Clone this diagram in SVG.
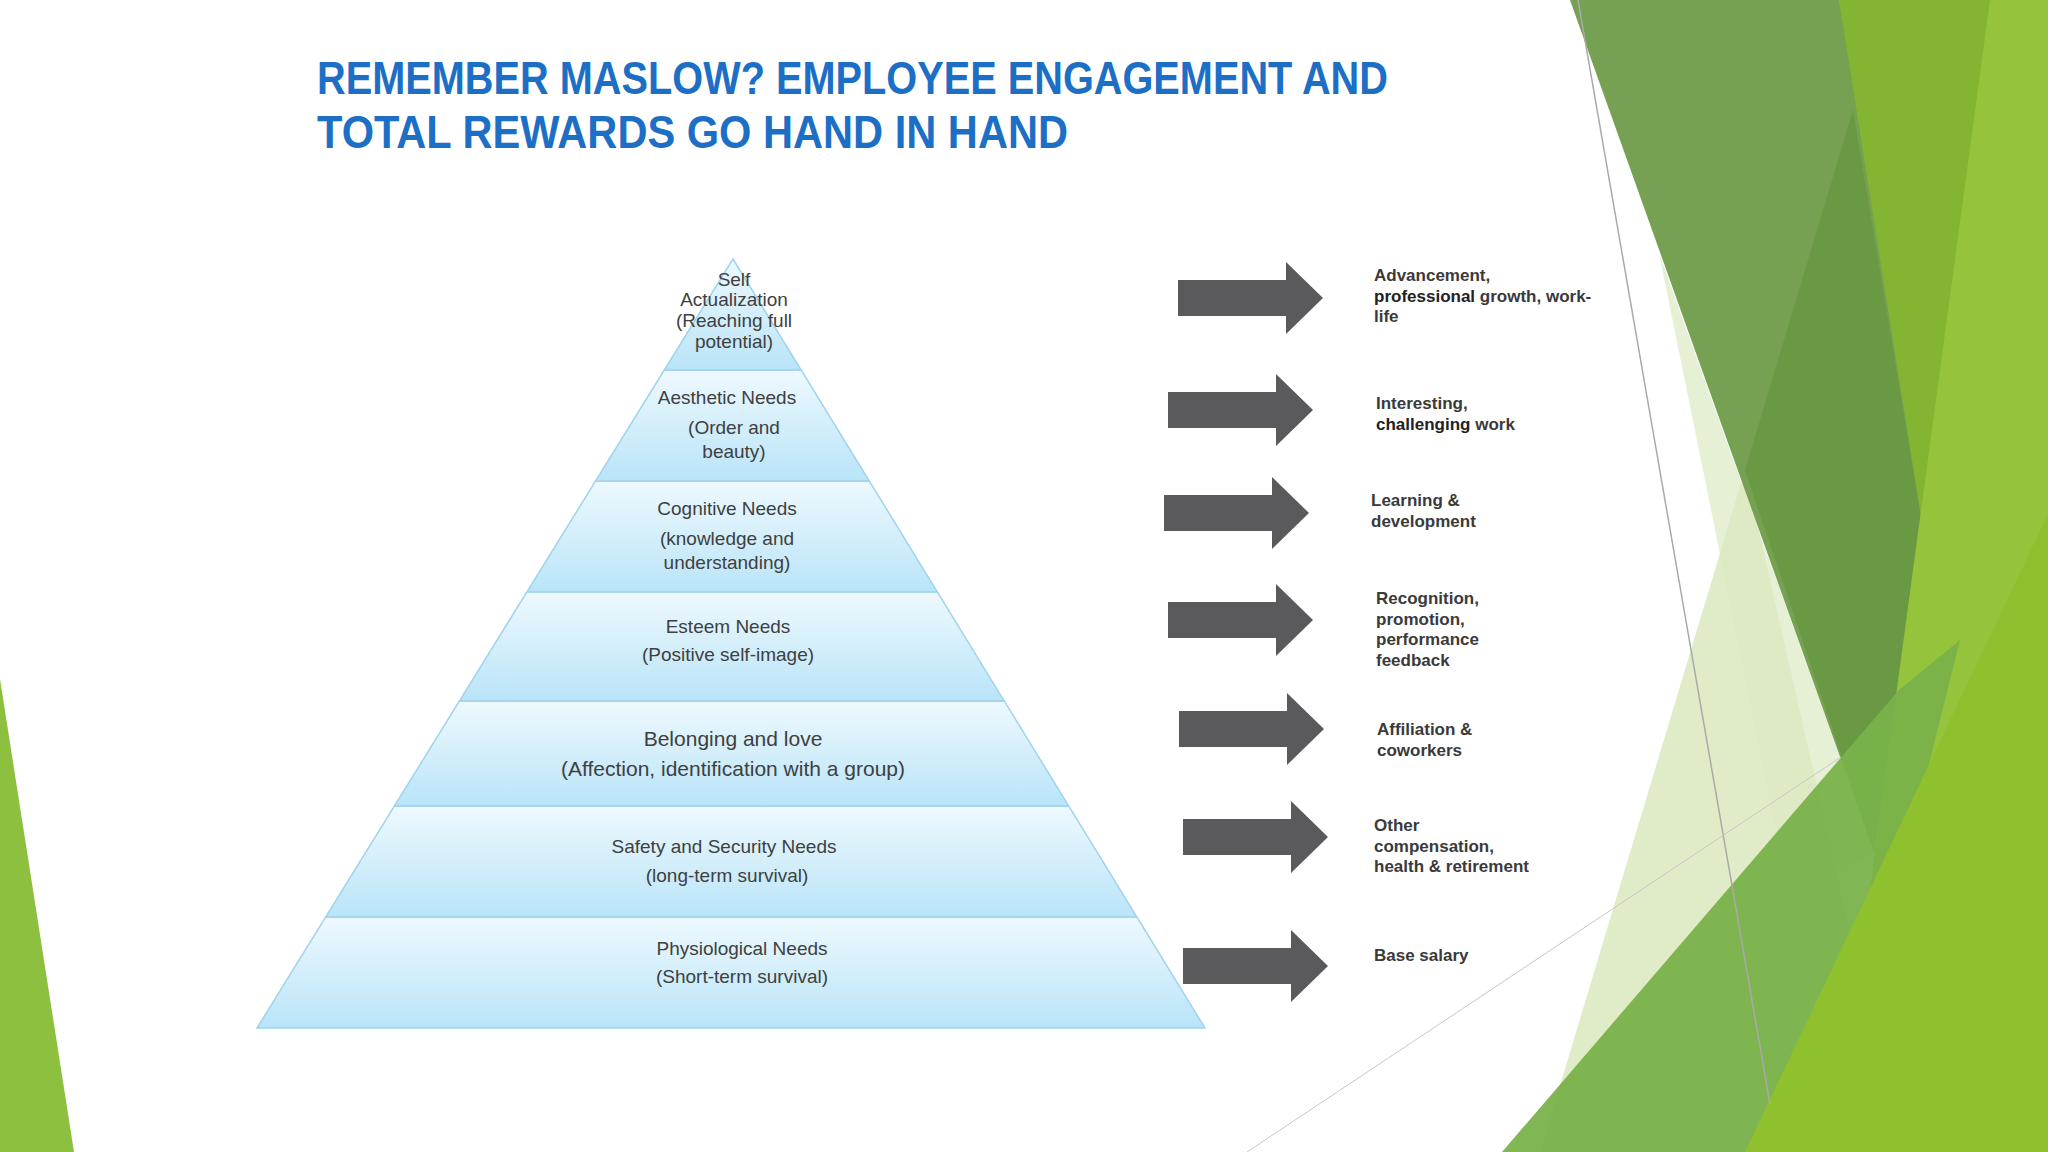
<svg xmlns="http://www.w3.org/2000/svg" width="2048" height="1152" viewBox="0 0 2048 1152">
<defs>
<style>
.pt{font-family:"Liberation Sans",Arial,sans-serif;font-size:19px;fill:#404040;text-anchor:middle}
.lb{font-family:"Liberation Sans",Arial,sans-serif;font-size:17px;font-weight:bold;fill:#3a3a3a}
.ttl{font-family:"Liberation Sans",Arial,sans-serif;font-size:46px;font-weight:bold;fill:#1d6fc6}
.arr{fill:#5a595b}
.sep{stroke:#a6d6ee;stroke-width:2}
</style>
<linearGradient id="band" x1="0" y1="0" x2="0" y2="1">
<stop offset="0" stop-color="#eef9fe"/><stop offset="1" stop-color="#b9e4f8"/>
</linearGradient>
<clipPath id="tri"><polygon points="733,259 1205,1028 257,1028"/></clipPath>
<path id="ar" d="M0,-18 H108 V-36 L145,0 L108,36 V18 H0 Z"/>
</defs>
<rect width="2048" height="1152" fill="#ffffff"/>
<g id="decor">
<polygon points="0,679 74,1152 0,1152" fill="#8dc03f"/>
<polygon points="1659,253 1874,852 1790,900" fill="#e6f0d4"/>
<polygon points="1745,470 1540,1152 1900,1152" fill="#dde9c2" opacity="0.9"/>
<polygon points="1839,0 2000,0 1874,852" fill="#83b532"/>
<polygon points="1570,0 1839,0 1923,529 1874,852" fill="#76a052"/>
<polygon points="1745,470 1853,110 1923,529 1874,852" fill="#6a9944"/>
<polygon points="1990,0 2048,0 2048,1152 1832,1152 1864,933" fill="#95c43c"/>
<polygon points="1502,1152 1899,690 1960,640 1832,1152" fill="#79b24a" opacity="0.95"/>
<polygon points="1745,1152 2048,514 2048,1152" fill="#8fc02e"/>
<line x1="1578" y1="0" x2="1770" y2="1104" stroke="#aaaaaa" stroke-width="1.5"/>
<line x1="1247" y1="1152" x2="1841" y2="757" stroke="#c8c8c8" stroke-width="1"/>
</g>
<g id="title">
<text class="ttl" x="317" y="94" textLength="1071" lengthAdjust="spacingAndGlyphs">REMEMBER MASLOW? EMPLOYEE ENGAGEMENT AND</text>
<text class="ttl" x="317" y="148" textLength="751" lengthAdjust="spacingAndGlyphs">TOTAL REWARDS GO  HAND IN HAND</text>
</g>
<g id="pyramid">
<g clip-path="url(#tri)">
<rect x="250" y="259" width="960" height="111" fill="url(#band)"/>
<rect x="250" y="370" width="960" height="111" fill="url(#band)"/>
<rect x="250" y="481" width="960" height="111" fill="url(#band)"/>
<rect x="250" y="592" width="960" height="109" fill="url(#band)"/>
<rect x="250" y="701" width="960" height="105" fill="url(#band)"/>
<rect x="250" y="806" width="960" height="111" fill="url(#band)"/>
<rect x="250" y="917" width="960" height="111" fill="url(#band)"/>
<line class="sep" x1="250" y1="370" x2="1210" y2="370"/>
<line class="sep" x1="250" y1="481" x2="1210" y2="481"/>
<line class="sep" x1="250" y1="592" x2="1210" y2="592"/>
<line class="sep" x1="250" y1="701" x2="1210" y2="701"/>
<line class="sep" x1="250" y1="806" x2="1210" y2="806"/>
<line class="sep" x1="250" y1="917" x2="1210" y2="917"/>
</g>
<polygon points="733,259 1205,1028 257,1028" fill="none" stroke="#9fd3ee" stroke-width="1.5"/>
</g>
<g id="n1"><text class="pt" x="734" y="286">Self</text><text class="pt" x="734" y="306">Actualization</text><text class="pt" x="734" y="327">(Reaching full</text><text class="pt" x="734" y="348">potential)</text></g>
<g id="n2"><text class="pt" x="727" y="404">Aesthetic Needs</text><text class="pt" x="734" y="434">(Order and</text><text class="pt" x="734" y="458">beauty)</text></g>
<g id="n3"><text class="pt" x="727" y="515">Cognitive Needs</text><text class="pt" x="727" y="545">(knowledge and</text><text class="pt" x="727" y="569">understanding)</text></g>
<g id="n4"><text class="pt" x="728" y="633">Esteem Needs</text><text class="pt" x="728" y="661">(Positive self-image)</text></g>
<g id="n5"><text class="pt" x="733" y="746" style="font-size:21px">Belonging and love</text><text class="pt" x="733" y="776" style="font-size:21px">(Affection, identification with a group)</text></g>
<g id="n6"><text class="pt" x="724" y="853">Safety and Security Needs</text><text class="pt" x="727" y="882">(long-term survival)</text></g>
<g id="n7"><text class="pt" x="742" y="955">Physiological Needs</text><text class="pt" x="742" y="983">(Short-term survival)</text></g>
<g id="connectors">
<use href="#ar" class="arr" x="1178" y="298"/>
<use href="#ar" class="arr" x="1168" y="410"/>
<use href="#ar" class="arr" x="1164" y="513"/>
<use href="#ar" class="arr" x="1168" y="620"/>
<use href="#ar" class="arr" x="1179" y="729"/>
<use href="#ar" class="arr" x="1183" y="837"/>
<use href="#ar" class="arr" x="1183" y="966"/>
</g>
<g id="r1"><text class="lb" x="1374" y="281">Advancement,</text><text class="lb" x="1374" y="302"><tspan fill="#222">professional</tspan>  growth, work-</text><text class="lb" x="1374" y="322">life</text></g>
<g id="r2"><text class="lb" x="1376" y="409">Interesting,</text><text class="lb" x="1376" y="430"><tspan fill="#222">challenging</tspan> work</text></g>
<g id="r3"><text class="lb" x="1371" y="506" fill="#222">Learning &amp;</text><text class="lb" x="1371" y="527" fill="#222">development</text></g>
<g id="r4"><text class="lb" x="1376" y="604">Recognition,</text><text class="lb" x="1376" y="625">promotion,</text><text class="lb" x="1376" y="645" fill="#222">performance</text><text class="lb" x="1376" y="666">feedback</text></g>
<g id="r5"><text class="lb" x="1377" y="735">Affiliation &amp;</text><text class="lb" x="1377" y="756" fill="#222">coworkers</text></g>
<g id="r6"><text class="lb" x="1374" y="831" fill="#111">Other</text><text class="lb" x="1374" y="852" fill="#222">compensation,</text><text class="lb" x="1374" y="872" fill="#222">health &amp; retirement</text></g>
<g id="r7"><text class="lb" x="1374" y="961" fill="#111">Base salary</text></g>
</svg>
